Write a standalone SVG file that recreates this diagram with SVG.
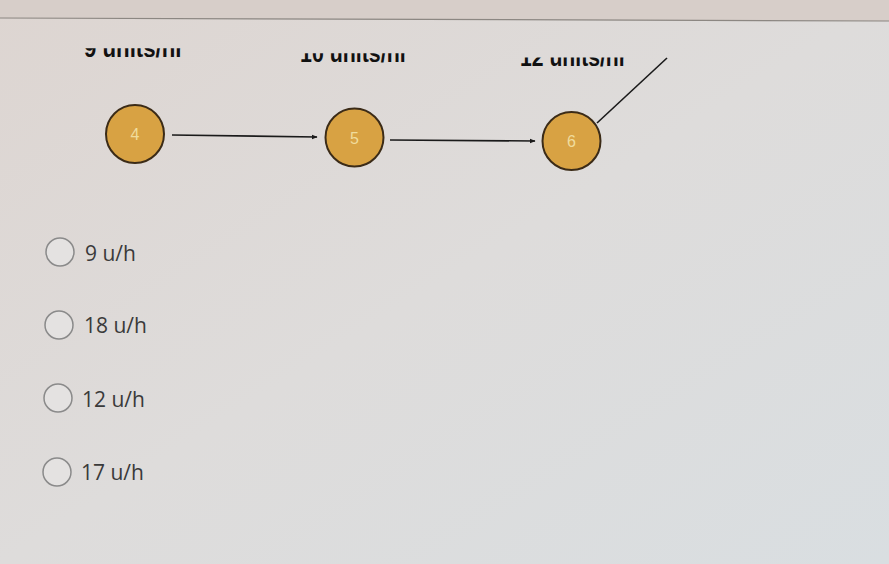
<svg xmlns="http://www.w3.org/2000/svg" width="889" height="564" viewBox="0 0 889 564">
<defs>
<linearGradient id="bg" x1="0" y1="0" x2="1" y2="1">
<stop offset="0" stop-color="#ddd5d1"/>
<stop offset="0.5" stop-color="#dedcdb"/>
<stop offset="1" stop-color="#d9dee1"/>
</linearGradient>
<marker id="ah" viewBox="0 0 10 10" refX="9" refY="5" markerWidth="6" markerHeight="6" orient="auto" markerUnits="userSpaceOnUse">
<path d="M0,1 L10,5 L0,9 z" fill="#1a1a1a"/>
</marker>
<clipPath id="c1"><rect x="60" y="48.3" width="160" height="20"/></clipPath>
<clipPath id="c2"><rect x="280" y="53.3" width="160" height="20"/></clipPath>
<clipPath id="c3"><rect x="500" y="57.5" width="160" height="20"/></clipPath>
</defs>
<style>
.node circle{fill:#d8a243;stroke:#3b2b17;stroke-width:2}
.node text{font-family:"Liberation Sans",Arial,sans-serif;font-size:16px;fill:#f0dc9c;text-anchor:middle}
.lbl{font-family:"Liberation Sans",Arial,sans-serif;font-size:26px;font-weight:bold;fill:#111}
.conn{stroke:#1a1a1a;stroke-width:1.6;fill:none}
.radio{fill:#e4e2e1;stroke:#8a8a8a;stroke-width:1.5}
.opt{font-family:"Open Sans",sans-serif;font-size:21px;fill:#3a3a3a}
</style>
<rect x="0" y="0" width="889" height="564" fill="url(#bg)"/>
<polygon points="0,0 889,0 889,21 0,18" fill="#d7cec9"/>
<line x1="0" y1="18" x2="889" y2="21" stroke="#8c8782" stroke-width="1.2"/>

<g id="labels">
<text class="lbl" x="84" y="56.6" clip-path="url(#c1)" textLength="100" lengthAdjust="spacingAndGlyphs">9 units/hr</text>
<text class="lbl" x="300" y="61.6" clip-path="url(#c2)" textLength="108" lengthAdjust="spacingAndGlyphs">10 units/hr</text>
<text class="lbl" x="520" y="65.5" clip-path="url(#c3)" textLength="107" lengthAdjust="spacingAndGlyphs">12 units/hr</text>
</g>

<g id="connectors">
<line class="conn" x1="172" y1="135" x2="317" y2="137" marker-end="url(#ah)"/>
<line class="conn" x1="390" y1="140" x2="535" y2="141" marker-end="url(#ah)"/>
<line class="conn" x1="597" y1="123" x2="667" y2="58"/>
</g>

<g id="node4" class="node"><circle cx="135" cy="134" r="29"/><text x="135" y="140">4</text></g>
<g id="node5" class="node"><circle cx="354.5" cy="137.5" r="29"/><text x="354.5" y="143.5">5</text></g>
<g id="node6" class="node"><circle cx="571.5" cy="141" r="29"/><text x="571.5" y="147">6</text></g>

<g id="option1"><circle class="radio" cx="60" cy="252" r="14"/><text class="opt" x="85" y="261">9 u/h</text></g>
<g id="option2"><circle class="radio" cx="59" cy="325" r="14"/><text class="opt" x="84" y="333">18 u/h</text></g>
<g id="option3"><circle class="radio" cx="58" cy="398" r="14"/><text class="opt" x="82" y="407">12 u/h</text></g>
<g id="option4"><circle class="radio" cx="57" cy="472" r="14"/><text class="opt" x="81" y="480">17 u/h</text></g>
</svg>
